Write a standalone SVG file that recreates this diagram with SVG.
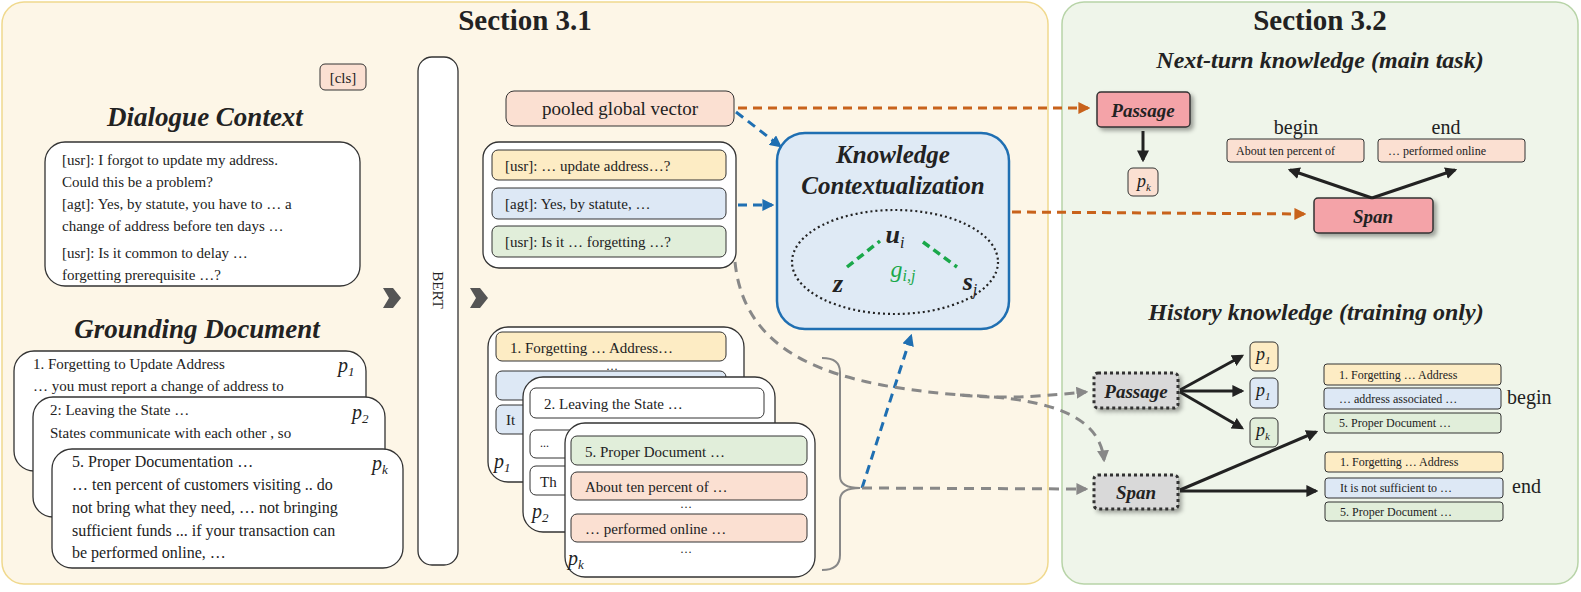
<svg xmlns="http://www.w3.org/2000/svg" width="1581" height="592" viewBox="0 0 1581 592">
<style>
text{font-family:"Liberation Serif",serif;fill:#222}
.t{font-size:15px}
.s{font-size:12px}
.h{font-size:27px;font-weight:bold;font-style:italic}
.sec{font-size:29px;font-weight:bold}
.bi{font-weight:bold;font-style:italic}
.it{font-style:italic}
.box{fill:#fff;stroke:#333;stroke-width:1.3}
.y{fill:#fdecc4;stroke:#333;stroke-width:1}
.b{fill:#dde8f5;stroke:#333;stroke-width:1}
.g{fill:#e1eeda;stroke:#333;stroke-width:1}
.pe{fill:#fbe0d2;stroke:#333;stroke-width:1}
.w{fill:#fff;stroke:#333;stroke-width:1}
.pink{fill:#f4a3a8;stroke:#333;stroke-width:1.5}
.hist{fill:#d9d9d9;stroke:#333;stroke-width:3;stroke-dasharray:3 3}
.or{fill:none;stroke:#c8621b;stroke-width:3;stroke-dasharray:9 6}
.bl{fill:none;stroke:#1f6fb2;stroke-width:3;stroke-dasharray:9 6}
.gr{fill:none;stroke:#888;stroke-width:3;stroke-dasharray:10 7}
.k{fill:none;stroke:#222;stroke-width:3}
</style>
<defs>
<marker id="ao" viewBox="0 0 10 10" refX="8" refY="5" markerWidth="4" markerHeight="4" orient="auto"><path d="M0,0L10,5L0,10z" fill="#c8621b"/></marker>
<marker id="ab" viewBox="0 0 10 10" refX="8" refY="5" markerWidth="4" markerHeight="4" orient="auto"><path d="M0,0L10,5L0,10z" fill="#1f6fb2"/></marker>
<marker id="ag" viewBox="0 0 10 10" refX="8" refY="5" markerWidth="4" markerHeight="4" orient="auto"><path d="M0,0L10,5L0,10z" fill="#888"/></marker>
<marker id="ak" viewBox="0 0 10 10" refX="8" refY="5" markerWidth="4" markerHeight="4" orient="auto"><path d="M0,0L10,5L0,10z" fill="#222"/></marker>
<filter id="sh" x="-20%" y="-20%" width="150%" height="160%"><feDropShadow dx="3" dy="3" stdDeviation="2" flood-opacity="0.35"/></filter>
</defs>

<g id="panel31"><rect x="2" y="2" width="1046" height="582" rx="22" fill="#fdf6e7" stroke="#f0d98e" stroke-width="1.5"/>
<text x="525" y="30" text-anchor="middle" class="sec">Section 3.1</text></g>
<g id="panel32"><rect x="1062" y="2" width="516" height="582" rx="22" fill="#eff5ea" stroke="#b8d4a8" stroke-width="1.5"/>
<text x="1320" y="30" text-anchor="middle" class="sec">Section 3.2</text>
<text x="1320" y="68" text-anchor="middle" class="bi" font-size="24">Next-turn knowledge (main task)</text>
<text x="1316" y="320" text-anchor="middle" class="bi" font-size="24">History knowledge (training only)</text></g>

<g id="cls"><rect x="320" y="64" width="46" height="26" rx="5" class="pe"/><text x="343" y="83" text-anchor="middle" class="t">[cls]</text></g>

<g id="dialogue"><text x="205" y="126" text-anchor="middle" class="h">Dialogue Context</text>
<rect x="45" y="142" width="315" height="144" rx="20" class="box"/>
<text class="t" x="62"><tspan y="165">[usr]: I forgot to update my address.</tspan><tspan x="62" y="187">Could this be a problem?</tspan><tspan x="62" y="209">[agt]: Yes, by statute, you have to … a</tspan><tspan x="62" y="231">change of address before ten days …</tspan><tspan x="62" y="258">[usr]: Is it common to delay …</tspan><tspan x="62" y="280">forgetting prerequisite …?</tspan></text></g>

<g id="grounding"><text x="197" y="338" text-anchor="middle" class="h">Grounding Document</text>
<rect x="14" y="351" width="352" height="120" rx="20" class="box"/>
<text class="t" x="33" y="369" font-size="16">1. Forgetting to Update Address</text>
<text class="t" x="33" y="391" font-size="16">… you must report a change of address to</text>
<text x="338" y="372" class="it" font-size="20">p<tspan font-size="13" dy="4">1</tspan></text>
<rect x="33" y="397" width="352" height="120" rx="20" class="box"/>
<text class="t" x="50" y="415" font-size="16">2: Leaving the State …</text>
<text class="t" x="50" y="438" font-size="16">States communicate with each other , so</text>
<text x="352" y="419" class="it" font-size="20">p<tspan font-size="13" dy="4">2</tspan></text>
<rect x="52" y="449" width="351" height="119" rx="20" class="box"/>
<text x="72" font-size="16"><tspan y="467">5. Proper Documentation …</tspan><tspan x="72" y="490">… ten percent of customers visiting .. do</tspan><tspan x="72" y="513">not bring what they need, … not bringing</tspan><tspan x="72" y="536">sufficient funds ... if your transaction can</tspan><tspan x="72" y="558">be performed online, …</tspan></text>
<text x="372" y="470" class="it" font-size="20">p<tspan font-size="13" dy="4">k</tspan></text></g>

<g id="chevrons" fill="#555"><path d="M383,288 L393,288 L401,298 L393,308 L383,308 L389,298z"/><path d="M470,288 L480,288 L488,298 L480,308 L470,308 L476,298z"/></g>

<g id="bert"><rect x="418" y="57" width="40" height="508" rx="14" class="box" stroke-width="1.6"/>
<text x="438" y="290" text-anchor="middle" class="t" font-size="16" transform="rotate(90 438 290)" dy="5">BERT</text></g>

<g id="pooled"><rect x="506" y="91" width="228" height="35" rx="8" class="pe"/><text x="620" y="115" text-anchor="middle" font-size="19">pooled global vector</text></g>

<g id="utterances"><rect x="483" y="142" width="253" height="126" rx="16" class="box"/>
<rect x="492" y="150" width="234" height="30" rx="6" class="y"/><text x="505" y="171" class="t">[usr]: … update address…?</text>
<rect x="492" y="188" width="234" height="31" rx="6" class="b"/><text x="505" y="209" class="t">[agt]: Yes, by statute, …</text>
<rect x="492" y="226" width="234" height="31" rx="6" class="g"/><text x="505" y="247" class="t">[usr]: Is it … forgetting …?</text></g>

<g id="kc"><rect x="777" y="133" width="232" height="196" rx="28" fill="#dfeaf5" stroke="#1f6fb2" stroke-width="2.5"/>
<text x="893" y="163" text-anchor="middle" class="bi" font-size="25">Knowledge</text>
<text x="893" y="194" text-anchor="middle" class="bi" font-size="25">Contextualization</text>
<ellipse cx="895" cy="262" rx="103" ry="52" fill="none" stroke="#222" stroke-width="2.2" stroke-dasharray="2 3"/>
<path d="M847,267 L880,241 M923,242 L957,267" stroke="#1aa84a" stroke-width="3.5" stroke-dasharray="8 5" fill="none"/>
<text x="895" y="243" text-anchor="middle" class="bi" font-size="26">u<tspan font-size="16" dy="5" font-weight="normal">i</tspan></text>
<text x="838" y="292" text-anchor="middle" class="bi" font-size="26">z</text>
<text x="970" y="290" text-anchor="middle" class="bi" font-size="26">s<tspan font-size="16" dy="5" font-weight="normal">j</tspan></text>
<text x="903" y="277" text-anchor="middle" class="it" font-size="24" style="fill:#1aa84a">g<tspan font-size="16" dy="4">i,j</tspan></text></g>

<g id="passages">
<rect x="488" y="327" width="256" height="155" rx="20" class="box"/>
<rect x="496" y="332" width="230" height="29" rx="6" class="y"/><text x="510" y="353" class="t" font-size="16">1. Forgetting … Address…</text>
<text x="612" y="370" text-anchor="middle" class="s">…</text>
<rect x="496" y="371" width="230" height="29" rx="6" class="b"/>
<rect x="496" y="405" width="230" height="29" rx="6" class="b"/><text x="506" y="425" class="t" font-size="16">It</text>
<text x="494" y="468" class="it" font-size="20">p<tspan font-size="13" dy="4">1</tspan></text>
<rect x="523" y="377" width="252" height="155" rx="20" class="box"/>
<rect x="530" y="388" width="234" height="30" rx="6" class="w"/><text x="544" y="409" class="t" font-size="16">2. Leaving the State  …</text>
<rect x="530" y="430" width="234" height="28" rx="6" class="w"/><text x="540" y="447" class="s">...</text>
<rect x="530" y="466" width="234" height="29" rx="6" class="w"/><text x="540" y="487" class="t" font-size="16">Th</text>
<text x="532" y="518" class="it" font-size="20">p<tspan font-size="13" dy="4">2</tspan></text>
<rect x="565" y="423" width="250" height="154" rx="20" class="box"/>
<rect x="571" y="436" width="236" height="29" rx="6" class="g"/><text x="585" y="457" class="t" font-size="16">5. Proper Document …</text>
<rect x="571" y="472" width="236" height="28" rx="6" class="pe"/><text x="585" y="492" class="t" font-size="16">About ten percent of …</text>
<text x="686" y="508" text-anchor="middle" class="s">…</text>
<rect x="571" y="514" width="236" height="28" rx="6" class="pe"/><text x="585" y="534" class="t" font-size="16">… performed online …</text>
<text x="686" y="553" text-anchor="middle" class="s">…</text>
<text x="568" y="565" class="it" font-size="20">p<tspan font-size="13" dy="4">k</tspan></text></g>

<g id="main-passage"><rect x="1097" y="92" width="93" height="35" rx="4" class="pink" filter="url(#sh)"/><text x="1143" y="117" text-anchor="middle" class="bi" font-size="19">Passage</text></g>
<g id="main-pk"><rect x="1128" y="168" width="30" height="28" rx="5" class="pe"/><text x="1137" y="187" class="it" font-size="18">p<tspan font-size="11" dy="4">k</tspan></text></g>
<g id="main-begin"><text x="1296" y="134" text-anchor="middle" font-size="20">begin</text><rect x="1227" y="139" width="137" height="23" rx="3" class="pe"/><text x="1236" y="155" class="s">About ten percent of</text></g>
<g id="main-end"><text x="1446" y="134" text-anchor="middle" font-size="20">end</text><rect x="1378" y="139" width="147" height="23" rx="3" class="pe"/><text x="1388" y="155" class="s">… performed online</text></g>
<g id="main-span"><rect x="1314" y="198" width="119" height="35" rx="4" class="pink" filter="url(#sh)"/><text x="1373" y="223" text-anchor="middle" class="bi" font-size="19">Span</text></g>

<g id="hist-passage"><rect x="1094" y="373" width="84" height="35" rx="4" class="hist" filter="url(#sh)"/><text x="1136" y="398" text-anchor="middle" class="bi" font-size="19">Passage</text></g>
<g id="hist-p"><rect x="1250" y="342" width="28" height="29" rx="5" class="y"/><text x="1256" y="360" class="it" font-size="18">p<tspan font-size="11" dy="4">1</tspan></text>
<rect x="1250" y="378" width="28" height="30" rx="5" class="b"/><text x="1256" y="396" class="it" font-size="18">p<tspan font-size="11" dy="4">1</tspan></text>
<rect x="1250" y="418" width="28" height="29" rx="5" class="g"/><text x="1256" y="436" class="it" font-size="18">p<tspan font-size="11" dy="4">k</tspan></text></g>
<g id="hist-begin"><rect x="1324" y="364" width="177" height="21" rx="3" class="y"/><text x="1339" y="379" class="s">1. Forgetting … Address</text>
<rect x="1324" y="388" width="177" height="21" rx="3" class="b"/><text x="1339" y="403" class="s">… address associated …</text>
<rect x="1324" y="413" width="177" height="20" rx="3" class="g"/><text x="1339" y="427" class="s">5. Proper Document …</text>
<text x="1507" y="404" font-size="20">begin</text></g>
<g id="hist-end"><rect x="1325" y="452" width="178" height="20" rx="3" class="y"/><text x="1340" y="466" class="s">1. Forgetting … Address</text>
<rect x="1325" y="478" width="178" height="20" rx="3" class="b"/><text x="1340" y="492" class="s">It is not sufficient to  …</text>
<rect x="1325" y="502" width="178" height="19" rx="3" class="g"/><text x="1340" y="516" class="s">5. Proper Document …</text>
<text x="1512" y="493" font-size="20">end</text></g>
<g id="hist-span"><rect x="1094" y="475" width="84" height="34" rx="4" class="hist" filter="url(#sh)"/><text x="1136" y="499" text-anchor="middle" class="bi" font-size="19">Span</text></g>

<g id="connectors">
<path d="M822,358 Q840,358 840,372 L840,476 Q840,488 860,488 Q840,488 840,500 L840,555 Q840,570 822,570" fill="none" stroke="#888" stroke-width="2"/>
<path d="M738,108 L1088,108" class="or" marker-end="url(#ao)"/>
<path d="M736,112 L780,146" class="bl" marker-end="url(#ab)"/>
<path d="M738,205 L772,205" class="bl" marker-end="url(#ab)"/>
<path d="M1012,212 L1304,214" class="or" marker-end="url(#ao)"/>
<path d="M862,488 L911,336" class="bl" marker-end="url(#ab)"/>
<path d="M735,262 C 745,360 840,385 960,395 C 1010,400 1050,395 1086,392" class="gr" marker-end="url(#ag)"/>
<path d="M960,395 C 1060,398 1100,420 1104,460" class="gr" marker-end="url(#ag)"/>
<path d="M862,488 L1086,489" class="gr" marker-end="url(#ag)"/>
<path d="M1143,131 L1143,160" class="k" marker-end="url(#ak)"/>
<path d="M1372,198 L1290,170" class="k" marker-end="url(#ak)"/>
<path d="M1372,198 L1455,170" class="k" marker-end="url(#ak)"/>
<path d="M1180,390 L1242,356" class="k" marker-end="url(#ak)"/>
<path d="M1180,391 L1242,391" class="k" marker-end="url(#ak)"/>
<path d="M1180,392 L1242,428" class="k" marker-end="url(#ak)"/>
<path d="M1180,490 L1316,432" class="k" marker-end="url(#ak)"/>
<path d="M1180,491 L1316,491" class="k" marker-end="url(#ak)"/>
</g>
</svg>
